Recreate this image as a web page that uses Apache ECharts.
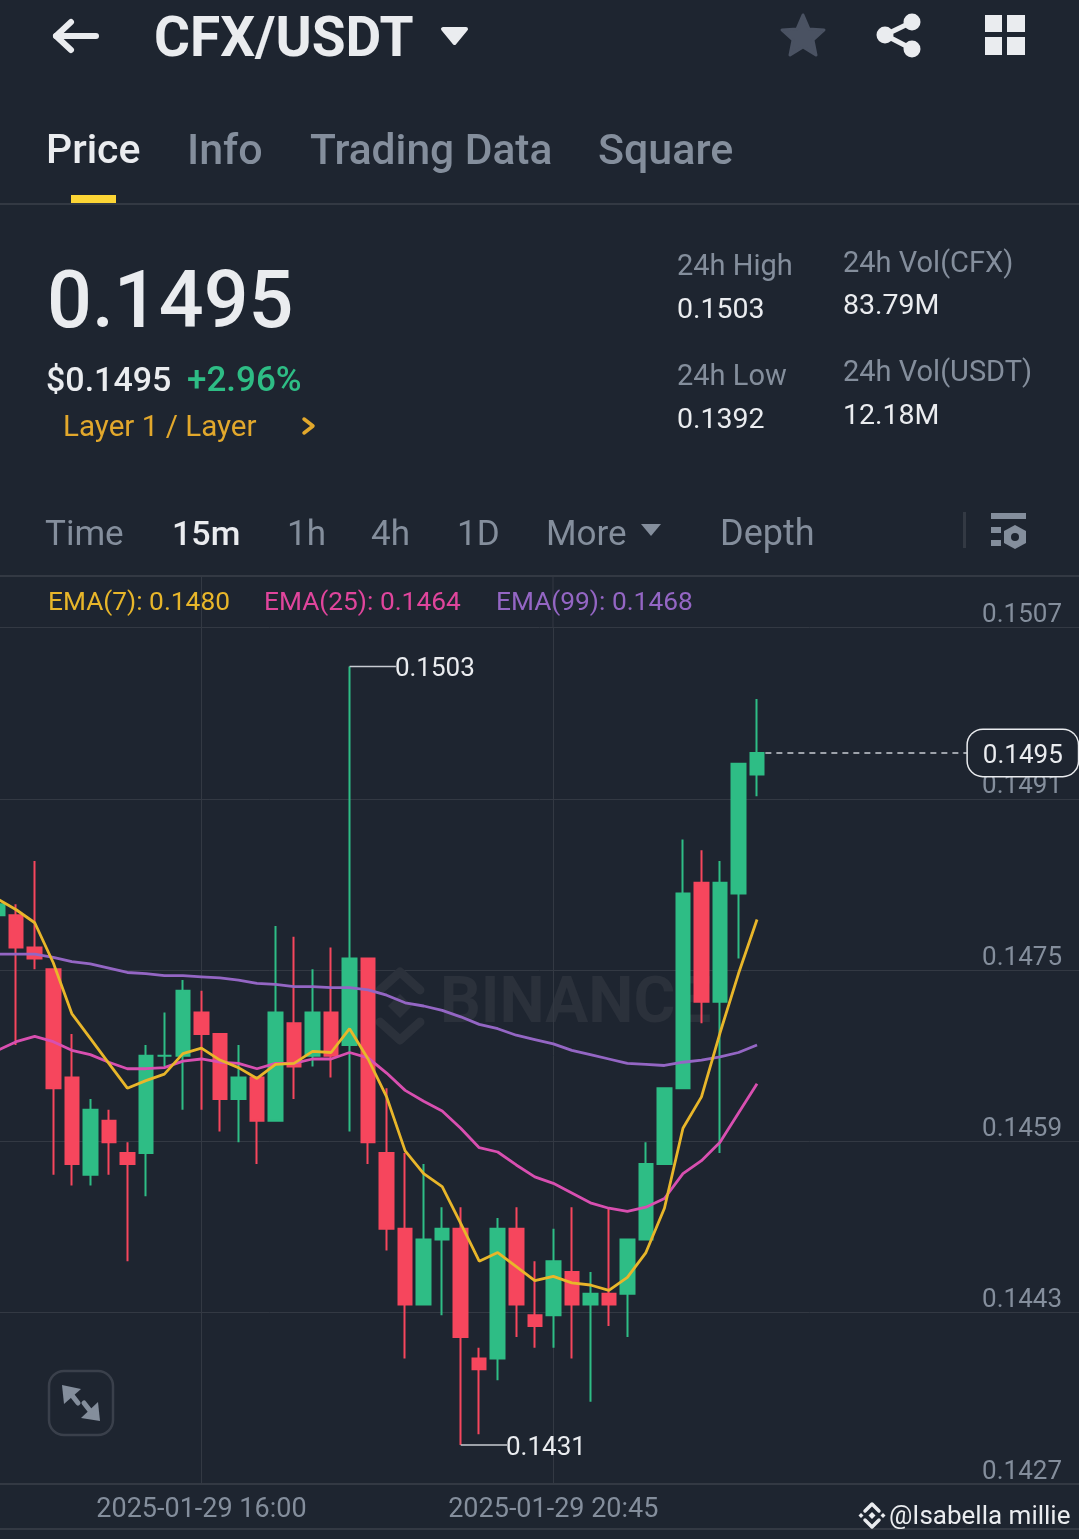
<!DOCTYPE html>
<html>
<head>
<meta charset="utf-8">
<title>CFX/USDT</title>
<script src="https://cdn.jsdelivr.net/npm/echarts@6/dist/echarts.min.js"></script>
<style>
	html, body { margin: 0; padding: 0; background: #1e2530; }
	#chart { width: 1079px; height: 1539px; }
</style>
</head>
<body>
<div id="chart"></div>
<script>
// 15m candles, the last 18 slots are empty room on the right of the chart
const times = [
	'2025-01-29 13:15', '2025-01-29 13:30', '2025-01-29 13:45', '2025-01-29 14:00', '2025-01-29 14:15', '2025-01-29 14:30',
	'2025-01-29 14:45', '2025-01-29 15:00', '2025-01-29 15:15', '2025-01-29 15:30', '2025-01-29 15:45', '2025-01-29 16:00',
	'2025-01-29 16:15', '2025-01-29 16:30', '2025-01-29 16:45', '2025-01-29 17:00', '2025-01-29 17:15', '2025-01-29 17:30',
	'2025-01-29 17:45', '2025-01-29 18:00', '2025-01-29 18:15', '2025-01-29 18:30', '2025-01-29 18:45', '2025-01-29 19:00',
	'2025-01-29 19:15', '2025-01-29 19:30', '2025-01-29 19:45', '2025-01-29 20:00', '2025-01-29 20:15', '2025-01-29 20:30',
	'2025-01-29 20:45', '2025-01-29 21:00', '2025-01-29 21:15', '2025-01-29 21:30', '2025-01-29 21:45', '2025-01-29 22:00',
	'2025-01-29 22:15', '2025-01-29 22:30', '2025-01-29 22:45', '2025-01-29 23:00', '2025-01-29 23:15', '2025-01-29 23:30',
	'2025-01-29 23:45', '2025-01-30 00:00', '2025-01-30 00:15', '2025-01-30 00:30', '2025-01-30 00:45', '2025-01-30 01:00',
	'2025-01-30 01:15', '2025-01-30 01:30', '2025-01-30 01:45', '2025-01-30 02:00', '2025-01-30 02:15', '2025-01-30 02:30',
	'2025-01-30 02:45', '2025-01-30 03:00', '2025-01-30 03:15', '2025-01-30 03:30', '2025-01-30 03:45', '2025-01-30 04:00',
]
const timeLabels = ['2025-01-29 16:00', '2025-01-29 20:45']

const opens = [
	0.1480, 0.1480, 0.1477, 0.1475, 0.1465, 0.1456, 0.1461, 0.1458, 0.1458, 0.1467, 0.1467, 0.1471, 0.1469, 0.1463,
	0.1465, 0.1461, 0.1470, 0.1467, 0.1471, 0.1468, 0.1476, 0.1458, 0.1451, 0.1444, 0.1450, 0.1451, 0.1439, 0.1439,
	0.1451, 0.1443, 0.1443, 0.1447, 0.1444, 0.1445, 0.1445, 0.1450, 0.1457, 0.1464, 0.1483, 0.1472, 0.1482, 0.1493,
]
const closes = [
	0.1481, 0.1477, 0.1476, 0.1464, 0.1457, 0.1462, 0.1459, 0.1457, 0.1467, 0.1467, 0.1473, 0.1469, 0.1463, 0.1465,
	0.1461, 0.1471, 0.1466, 0.1471, 0.1467, 0.1476, 0.1459, 0.1451, 0.1444, 0.1450, 0.1451, 0.1441, 0.1438, 0.1451,
	0.1444, 0.1442, 0.1448, 0.1444, 0.1445, 0.1444, 0.1450, 0.1457, 0.1464, 0.1482, 0.1472, 0.1483, 0.1494, 0.1495,
]
const lows = [
	0.1480, 0.1468, 0.1475, 0.1456, 0.1455, 0.1455, 0.1456, 0.1448, 0.1454, 0.1466, 0.1462, 0.1462, 0.1460, 0.1459,
	0.1457, 0.1461, 0.1463, 0.1466, 0.1465, 0.1460, 0.1457, 0.1449, 0.1439, 0.1444, 0.1443, 0.1431, 0.1432, 0.1437,
	0.1441, 0.1440, 0.1440, 0.1439, 0.1435, 0.1442, 0.1441, 0.1450, 0.1457, 0.1464, 0.1470, 0.1458, 0.1476, 0.1491,
]
const highs = [
	0.1481, 0.1481, 0.1485, 0.1475, 0.1469, 0.1463, 0.1462, 0.1459, 0.1468, 0.1471, 0.1474, 0.1473, 0.1469, 0.1468,
	0.1465, 0.1479, 0.1478, 0.1475, 0.1477, 0.1503, 0.1476, 0.1464, 0.1458, 0.1457, 0.1453, 0.1453, 0.1440, 0.1452,
	0.1453, 0.1448, 0.1451, 0.1453, 0.1447, 0.1453, 0.1450, 0.1459, 0.1464, 0.1487, 0.1486, 0.1485, 0.1494, 0.1500,
]

const ema7 = [
	0.14815, 0.14805, 0.14793, 0.14756, 0.14709, 0.14686, 0.14663, 0.14640, 0.14647, 0.14653, 0.14672, 0.14677, 0.14666, 0.14659,
	0.14649, 0.14662, 0.14663, 0.14674, 0.14673, 0.14695, 0.14667, 0.14632, 0.14582, 0.14561, 0.14549, 0.14515, 0.14480, 0.14488,
	0.14475, 0.14462, 0.14466, 0.14460, 0.14458, 0.14453, 0.14465, 0.14488, 0.14529, 0.14603, 0.14632, 0.14691, 0.14746, 0.14796,
]
const ema25 = [
	0.14675, 0.14683, 0.14688, 0.14683, 0.14675, 0.14671, 0.14664, 0.14658, 0.14658, 0.14659, 0.14665, 0.14667, 0.14664, 0.14663,
	0.14658, 0.14663, 0.14663, 0.14667, 0.14667, 0.14673, 0.14668, 0.14654, 0.14638, 0.14628, 0.14619, 0.14603, 0.14585, 0.14581,
	0.14569, 0.14558, 0.14552, 0.14543, 0.14534, 0.14529, 0.14526, 0.14530, 0.14538, 0.14561, 0.14573, 0.14590, 0.14617, 0.14644,
]
const ema99 = [
	0.14764, 0.14764, 0.14764, 0.14761, 0.14757, 0.14755, 0.14751, 0.14747, 0.14746, 0.14744, 0.14744, 0.14743, 0.14742, 0.14740,
	0.14737, 0.14736, 0.14734, 0.14734, 0.14733, 0.14733, 0.14731, 0.14726, 0.14719, 0.14716, 0.14712, 0.14706, 0.14699, 0.14695,
	0.14689, 0.14685, 0.14681, 0.14675, 0.14671, 0.14667, 0.14663, 0.14662, 0.14661, 0.14664, 0.14666, 0.14669, 0.14673, 0.14680,
]

const lastPrice = 0.1495
const highPrice = 0.1503
const lowPrice = 0.1431

const BG = '#1e2530'
const GREEN = '#2ebd85'
const RED = '#f6465d'
const GRAY = '#848e9c'
const WHITE = '#eaecef'
const LINE = '#333943'
const FONT = 'Roboto, sans-serif'

const candles = opens.map((open, i) => [open, closes[i], lows[i], highs[i]])

// graphic helpers for the app chrome around the chart
const txt = (x, y, text, size, fill, weight) => ({
	type: 'text',
	z: 5,
	style: { x: x - 1, y: y + 3, text, fill, font: `${weight || 400} ${size}px ${FONT}`, textVerticalAlign: 'middle' },
})
const rect = (x, y, width, height, fill, r) => ({
	type: 'rect',
	z: 5,
	shape: { x, y, width, height, r: r || 0 },
	style: { fill },
})
const seg = (x1, y1, x2, y2, stroke, lineWidth) => ({
	type: 'line',
	z: 1,
	shape: { x1, y1, x2, y2 },
	style: { stroke, lineWidth: lineWidth || 1 },
})
const poly = (points, fill) => ({ type: 'polygon', z: 5, shape: { points }, style: { fill } })
const path = (points, stroke, lineWidth, z) => ({
	type: 'polyline',
	z: z || 5,
	shape: { points },
	style: { stroke, lineWidth, fill: null, lineCap: 'round', lineJoin: 'round' },
})
const dot = (cx, cy, r, fill) => ({ type: 'circle', z: 5, shape: { cx, cy, r }, style: { fill } })
const diamond = (cx, cy, r, fill) => poly([[cx, cy - r], [cx + r, cy], [cx, cy + r], [cx - r, cy]], fill)

const star = {
	type: 'polygon',
	z: 5,
	shape: {
		points: [
			[803, 15], [809, 29], [824, 30], [813, 40], [816, 55], [803, 47], [790, 55], [793, 40], [782, 30], [797, 29],
		],
	},
	style: { fill: '#4a5262', stroke: '#4a5262', lineWidth: 3, lineJoin: 'round' },
}

const chrome = [
	// top bar
	path([[56, 36], [96, 36]], WHITE, 6),
	path([[71, 22], [56, 36], [71, 50]], WHITE, 6),
	txt(155, 39, 'CFX/USDT', 55, WHITE, 700),
	{
		type: 'polygon',
		z: 5,
		shape: { points: [[443, 29], [466, 29], [454.5, 43]] },
		style: { fill: WHITE, stroke: WHITE, lineWidth: 4, lineJoin: 'round' },
	},
	star,
	path([[885, 35], [912, 22]], WHITE, 5),
	path([[885, 35], [912, 49]], WHITE, 5),
	dot(885, 35, 8.5, WHITE),
	dot(912, 22, 8.5, WHITE),
	dot(912, 49, 8.5, WHITE),
	rect(985, 15, 17, 17, WHITE),
	rect(1007, 15, 18, 17, WHITE),
	rect(985, 37, 17, 18, WHITE),
	rect(1007, 37, 18, 18, WHITE),

	// tabs
	txt(47, 150, 'Price', 41, WHITE, 500),
	txt(188, 150, 'Info', 43, GRAY, 500),
	txt(311, 150, 'Trading Data', 42.5, GRAY, 500),
	txt(599, 150, 'Square', 43, GRAY, 500),
	rect(71, 195, 45, 8, '#fcd535'),
	seg(0, 204, 1079, 204, LINE, 2),

	// price block
	txt(48, 304, '0.1495', 79, WHITE, 500),
	txt(47, 379, '$0.1495', 34, WHITE, 500),
	txt(188, 379, '+2.96%', 35, GREEN, 500),
	txt(64, 426, 'Layer 1 / Layer', 29.6, '#e2a82c'),
	path([[304, 419], [313, 426], [304, 433]], '#e2a82c', 3.5),

	txt(678, 265, '24h High', 29, GRAY),
	txt(678, 308, '0.1503', 28.5, WHITE),
	txt(678, 375, '24h Low', 29, GRAY),
	txt(678, 418, '0.1392', 28.5, WHITE),
	txt(844, 262, '24h Vol(CFX)', 29, GRAY),
	txt(844, 304, '83.79M', 28.5, WHITE),
	txt(844, 371, '24h Vol(USDT)', 29, GRAY),
	txt(844, 414, '12.18M', 28.5, WHITE),

	// interval row
	txt(46, 533, 'Time', 35, GRAY),
	txt(173, 533, '15m', 34, WHITE, 500),
	txt(288, 533, '1h', 35, GRAY),
	txt(372, 533, '4h', 35, GRAY),
	txt(458, 533, '1D', 35, GRAY),
	txt(547, 533, 'More', 35, GRAY),
	poly([[641, 524], [661, 524], [651, 536]], GRAY),
	txt(721, 533, 'Depth', 36, GRAY),
	rect(963, 512, 3, 36, '#333943'),
	rect(991, 513, 35, 6, GRAY),
	rect(991, 527, 10, 6, GRAY),
	rect(991, 540, 10, 6, GRAY),
	poly([[1015, 525], [1026, 531], [1026, 543], [1015, 549], [1004, 543], [1004, 531]], GRAY),
	dot(1015, 537, 4, BG),
	seg(0, 576, 1079, 576, LINE, 2),

	// ema legend
	txt(49, 600, 'EMA(7): 0.1480', 26.3, '#e8b62a'),
	txt(265, 600, 'EMA(25): 0.1464', 26.3, '#e0459c'),
	txt(497, 600, 'EMA(99): 0.1468', 26.3, '#9466c4'),

	// vertical grid lines carry on up to the legend row
	seg(201.5, 577, 201.5, 628, LINE),
	seg(553, 577, 553, 628, LINE),

	// watermark behind the candles
	{
		type: 'text',
		z: 0,
		style: { x: 440, y: 1006, text: 'BINANCE', fill: '#2b313b', font: `700 64px ${FONT}`, textVerticalAlign: 'middle' },
	},
	path([[380, 990], [400, 972], [420, 990]], '#2b313b', 9, 1),
	path([[380, 1022], [400, 1040], [420, 1022]], '#2b313b', 9, 1),
	{ type: 'polygon', z: 0, shape: { points: [[400, 994], [412, 1006], [400, 1018], [388, 1006]] }, style: { fill: '#2b313b' } },

	// expand button
	{
		type: 'rect',
		z: 5,
		shape: { x: 49, y: 1371, width: 64, height: 64, r: 15 },
		style: { fill: null, stroke: '#3a404b', lineWidth: 2.5 },
	},
	poly([[62, 1385], [81, 1389], [64, 1404]], GRAY),
	path([[71, 1394], [78, 1403]], GRAY, 5),
	poly([[100, 1421], [81, 1418], [98, 1402]], GRAY),
	path([[91, 1412], [84, 1403]], GRAY, 5),

	// bottom strip
	seg(0, 1529, 1079, 1529, LINE, 2),
	path([[865, 1511], [872, 1504], [879, 1511]], WHITE, 3.5),
	path([[865, 1520], [872, 1527], [879, 1520]], WHITE, 3.5),
	diamond(872, 1515.5, 3.5, WHITE),
	diamond(861, 1515.5, 2.5, WHITE),
	diamond(883, 1515.5, 2.5, WHITE),
	txt(890, 1514, '@Isabella millie', 26, WHITE),
]

const emaSeries = (name, data, color) => ({
	name,
	type: 'line',
	data,
	symbol: 'none',
	lineStyle: { color, width: 2.8 },
	z: 3,
})

// thin helper lines that run on the hidden value axis
const callout = (name, data, color, width, type, label) => ({
	name,
	type: 'line',
	xAxisIndex: 1,
	data,
	symbol: 'none',
	lineStyle: { color, width, type },
	endLabel: label,
	z: 4,
})

const calloutLabel = (value) => ({
	show: true,
	distance: -1,
	offset: [0, 3],
	formatter: () => value.toFixed(4),
	color: WHITE,
	fontFamily: FONT,
	fontSize: 26,
})

const showTime = (i, value) => timeLabels.includes(value)

const chart = echarts.init(document.getElementById('chart'))
chart.setOption({
	backgroundColor: BG,
	animation: false,
	textStyle: { fontFamily: FONT },
	graphic: { elements: chrome },
	grid: { left: -2.3, right: -11.4, top: 627.5, bottom: 55, outerBoundsMode: 'none' },
	xAxis: [
		{
			type: 'category',
			data: times,
			boundaryGap: false,
			axisLine: { show: true, lineStyle: { color: LINE, width: 2 } },
			axisTick: { show: false },
			axisLabel: {
				interval: showTime,
				color: GRAY,
				fontSize: 27,
				fontFamily: FONT,
				margin: 13,
				hideOverlap: false,
			},
			splitLine: { show: true, interval: showTime, lineStyle: { color: LINE, width: 1 } },
		},
		{ type: 'value', min: 0, max: times.length - 1, show: false },
	],
	yAxis: {
		type: 'value',
		position: 'right',
		min: 0.14274,
		max: 0.15066,
		interval: 0.001584,
		axisLine: { show: false },
		axisTick: { show: false },
		axisLabel: {
			inside: true,
			margin: 28.4,
			color: GRAY,
			fontSize: 26,
			fontFamily: FONT,
			verticalAlign: 'bottom',
			lineHeight: 24,
			formatter: (value) => value.toFixed(4),
		},
		splitLine: { show: true, lineStyle: { color: LINE, width: 1 } },
	},
	series: [
		{
			name: 'CFX/USDT',
			type: 'candlestick',
			data: candles,
			barWidth: 14,
			itemStyle: {
				color: GREEN,
				color0: RED,
				borderColor: GREEN,
				borderColor0: RED,
				borderWidth: 2,
			},
			z: 2,
		},
		emaSeries('EMA(99)', ema99, '#9466c4'),
		emaSeries('EMA(25)', ema25, '#d84fb0'),
		emaSeries('EMA(7)', ema7, '#e8b62a'),
		callout('High', [[19, highPrice], [21.5, highPrice]], '#c8ccd2', 1.5, 'solid', calloutLabel(highPrice)),
		callout('Low', [[25, lowPrice], [27.5, lowPrice]], '#c8ccd2', 1.5, 'solid', calloutLabel(lowPrice)),
		callout('Last', [[41.45, lastPrice], [52.33, lastPrice]], '#c8ccd2', 1.5, [6, 5], {
			show: true,
			distance: 1,
			verticalAlign: 'top',
			offset: [0, -23],
			formatter: () => lastPrice.toFixed(4),
			color: WHITE,
			fontFamily: FONT,
			fontSize: 26,
			backgroundColor: BG,
			borderColor: WHITE,
			borderWidth: 1.5,
			borderRadius: 15,
			padding: [14, 15, 6, 15],
		}),
	],
})
</script>
</body>
</html>
